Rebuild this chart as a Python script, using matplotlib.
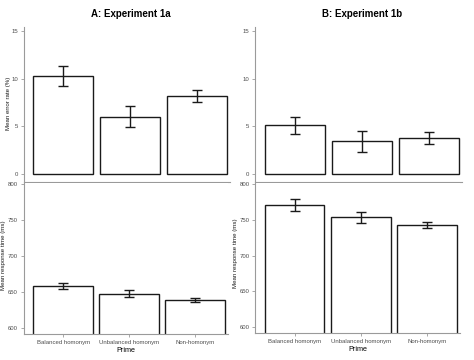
import matplotlib
matplotlib.use("Agg")
import matplotlib.pyplot as plt

plt.rcParams['font.family'] = ['Liberation Sans', 'DejaVu Sans']

categories = ["Balanced homonym", "Unbalanced homonym", "Non-homonym"]

err_a = [10.3, 6.0, 8.15]
err_a_lo = [9.2, 4.9, 7.5]
err_a_hi = [11.3, 7.15, 8.8]

err_b = [5.13, 3.41, 3.73]
err_b_lo = [4.2, 2.27, 3.17]
err_b_hi = [6.0, 4.53, 4.36]

rt_a = [657.9, 647.7, 639.3]
rt_a_lo = [653.7, 643.1, 636.5]
rt_a_hi = [662.9, 653.2, 642.1]

rt_b = [770.6, 753.4, 742.6]
rt_b_lo = [762.2, 745.8, 737.9]
rt_b_hi = [779.0, 760.4, 747.2]

W, H = 474, 360
fig = plt.figure(figsize=(W / 100, H / 100), dpi=100)


def add_ax(x0, x1, ytop, ybot):
    return fig.add_axes([x0 / W, 1 - ybot / H, (x1 - x0) / W, (ybot - ytop) / H])


AXC = '#9a9a9a'
TXT = '#4d4d4d'


def style(ax, showx):
    for s in ['top', 'right']:
        ax.spines[s].set_visible(False)
    for s in ['left', 'bottom']:
        ax.spines[s].set_color(AXC)
        ax.spines[s].set_linewidth(0.8)
    ax.tick_params(axis='both', colors=AXC, labelcolor=TXT, labelsize=4.3,
                   length=2.5, width=0.6, pad=1.5)
    ax.set_xlim(0.4, 3.5)
    ax.set_xticks([1, 2, 3])
    if showx:
        ax.set_xticklabels(categories)
    else:
        ax.set_xticklabels([])


def draw(ax, vals, lo, hi, bottom):
    x = [1, 2, 3]
    h = [v - bottom for v in vals]
    ax.bar(x, h, bottom=bottom, width=0.9, color='white', edgecolor='#1a1a1a',
           linewidth=1.0, zorder=2)
    yerr = [[v - l for v, l in zip(vals, lo)], [u - v for v, u in zip(vals, hi)]]
    ax.errorbar(x, vals, yerr=yerr, fmt='none', ecolor='#1a1a1a', elinewidth=1.0,
                capsize=3.3, capthick=1.0, zorder=3)


top_lim = (-0.84, 15.42)
bot_lim = (591.7, 801.4)

axA1 = add_ax(23.5, 230, 27, 182)
draw(axA1, err_a, err_a_lo, err_a_hi, 0)
axA1.set_ylim(*top_lim)
axA1.set_yticks([0, 5, 10, 15])
style(axA1, False)

axB1 = add_ax(255, 462, 27, 182)
draw(axB1, err_b, err_b_lo, err_b_hi, 0)
axB1.set_ylim(*top_lim)
axB1.set_yticks([0, 5, 10, 15])
style(axB1, False)

axA2 = add_ax(23.5, 228, 183, 334)
draw(axA2, rt_a, rt_a_lo, rt_a_hi, 0)
axA2.set_ylim(*bot_lim)
axA2.set_yticks([600, 650, 700, 750, 800])
style(axA2, True)
axA2.set_xlabel("Prime", fontsize=5.2, labelpad=2)

axB2 = add_ax(255, 460, 183, 333)
draw(axB2, rt_b, rt_b_lo, rt_b_hi, 0)
axB2.set_ylim(*bot_lim)
axB2.set_yticks([600, 650, 700, 750, 800])
style(axB2, True)
axB2.set_xlabel("Prime", fontsize=5.2, labelpad=2)

ylab_kw = dict(fontsize=4.4, rotation=90, ha='center', va='center', color='#1a1a1a')
fig.text(9 / W, 1 - 103 / H, "Mean error rate (%)", **ylab_kw)
fig.text(4 / W, 1 - 255 / H, "Mean response time (ms)", **ylab_kw)
fig.text(236 / W, 1 - 253 / H, "Mean response time (ms)", **ylab_kw)

fig.text(131 / W, 1 - 14 / H, "A: Experiment 1a", fontsize=7.0, fontweight='bold',
         ha='center', va='center')
fig.text(362 / W, 1 - 14 / H, "B: Experiment 1b", fontsize=7.0, fontweight='bold',
         ha='center', va='center')

fig.savefig("out.png", dpi=100, facecolor='white')
